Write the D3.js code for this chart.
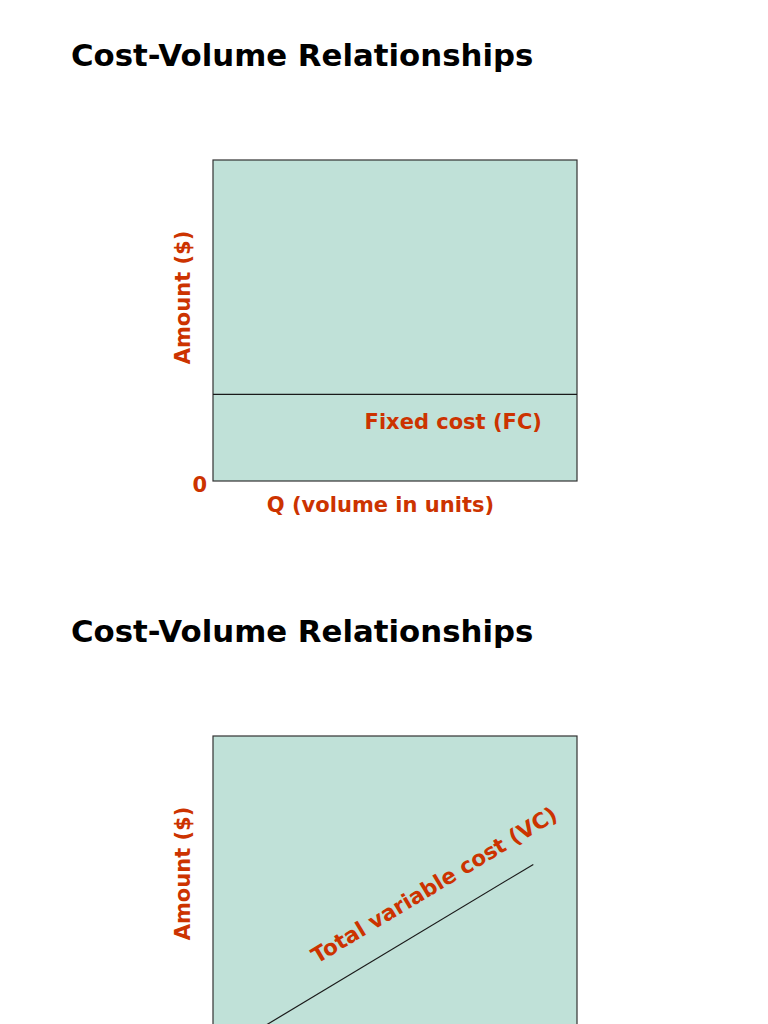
<!DOCTYPE html>
<html lang="en">
<head>
  <meta charset="UTF-8" />
  <title>Cost-Volume Relationships</title>
  <script src="https://d3js.org/d3.v7.min.js"></script>
  <style>
    body { margin: 0; background: #fff; }
    svg { display: block; font-family: "DejaVu Sans", Verdana, sans-serif; font-weight: bold; }
    .title { font-size: 30.8px; fill: #000; }
    .lbl { font-size: 21px; fill: #cc3300; }
    .frame { fill: #c0e1d8; stroke: #333; stroke-width: 1.2px; }
    .cost { fill: none; stroke: #1a1a1a; stroke-width: 1.2px; }
  </style>
</head>
<body>
<svg width="768" height="1024"></svg>

<script>
// chart data
const panelTitles = ["Cost-Volume Relationships", "Cost-Volume Relationships"];
const qDomain = [0, 100];
const amountDomain = [0, 100];
const fixedCost = [{ q: 0, amt: 27 }, { q: 100, amt: 27 }];
const variableCost = [{ q: 0, amt: 0 }, { q: 88, amt: 60 }];
const xLabel = "Q (volume in units)";
const yLabel = "Amount ($)";
const zeroTick = ["0"];

const svg = d3.select("svg");
const W = 364, H = 321;

const x = d3.scaleLinear().domain(qDomain).range([0, W]);
const y = d3.scaleLinear().domain(amountDomain).range([H, 0]);
const line = d3.line().x(d => x(d.q)).y(d => y(d.amt));

// showBottom: the lower panel runs off the page, so its bottom labels are not visible
function drawPanel(top, title, showBottom) {
  svg.append("text").attr("class", "title")
    .attr("x", 71).attr("y", top + 66)
    .text(title);

  const g = svg.append("g").attr("transform", `translate(213,${top + 160})`);
  g.append("rect").attr("class", "frame")
    .attr("x", 0).attr("y", 0).attr("width", W).attr("height", H);

  g.append("text").attr("class", "lbl")
    .attr("transform", `translate(-23,${H / 2 - 23}) rotate(-90)`)
    .attr("text-anchor", "middle")
    .text(yLabel);

  if (showBottom) {
    g.selectAll(".zero").data(zeroTick).enter().append("text")
      .attr("class", "lbl zero")
      .attr("x", -6).attr("y", y(amountDomain[0]) + 11)
      .attr("text-anchor", "end")
      .text(d => d);

    g.append("text").attr("class", "lbl")
      .attr("x", x(46)).attr("y", H + 31)
      .attr("text-anchor", "middle")
      .text(xLabel);
  }
  return g;
}

// panel 1: fixed cost
const g1 = drawPanel(0, panelTitles[0], true);
g1.append("path").attr("class", "cost").attr("d", line(fixedCost));
g1.append("text").attr("class", "lbl")
  .attr("x", x(66)).attr("y", y(16.2))
  .attr("text-anchor", "middle")
  .text("Fixed cost (FC)");

// panel 2: total variable cost
const g2 = drawPanel(576, panelTitles[1], false);
g2.append("path").attr("class", "cost").attr("d", line(variableCost));
const p0 = variableCost[0], p1 = variableCost[1];
const ang = Math.atan2(y(p1.amt) - y(p0.amt), x(p1.q) - x(p0.q)) * 180 / Math.PI;
const mid = { q: 65.5, amt: 65.5 * p1.amt / p1.q };
g2.append("text").attr("class", "lbl")
  .attr("transform", `translate(${x(mid.q)},${y(mid.amt)}) rotate(${ang})`)
  .attr("y", -26)
  .attr("text-anchor", "middle")
  .style("font-size", "21.5px")
  .text("Total variable cost (VC)");
</script>
</body>
</html>
